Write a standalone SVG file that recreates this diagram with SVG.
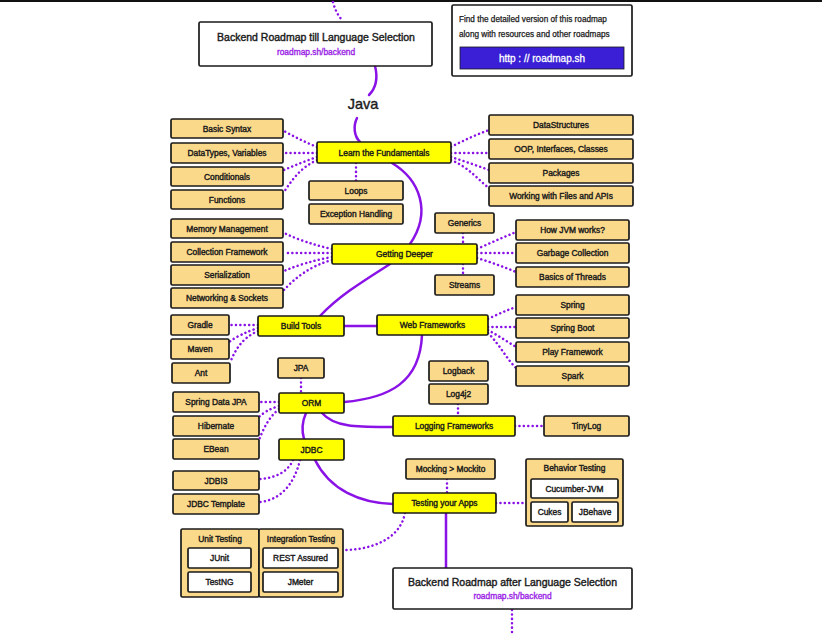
<svg xmlns="http://www.w3.org/2000/svg" width="822" height="635" viewBox="0 0 822 635">
<style>
text{font-family:"Liberation Sans",Arial,sans-serif;text-anchor:middle;dominant-baseline:central;fill:#1a1a1a;stroke:#1a1a1a;stroke-width:0.4;font-size:8.4px}
.main rect{fill:#ffff00;stroke:#1a1a1a;stroke-width:1.7}
.sub rect{fill:#fbd98b;stroke:#1a1a1a;stroke-width:1.7}
.white{fill:#fff;stroke:#1a1a1a;stroke-width:1.7}
.cont{fill:#fbd98b;stroke:#1a1a1a;stroke-width:1.7}
.solid{fill:none;stroke:#8a12e6;stroke-width:2.5;stroke-linecap:round}
.dot{fill:none;stroke:#8a12e6;stroke-width:2.5;stroke-linecap:round;stroke-dasharray:0.1 4.3}
.big{font-size:10.5px}
.link{font-size:8.4px;fill:#9a1ee6;stroke:#9a1ee6;stroke-width:0.35}
.info{font-size:8.2px;text-anchor:start;stroke-width:0.25}
</style>
<rect x="0" y="0" width="822" height="2" fill="#111"/>
<g id="connectors">
<path class="dot" d="M333,2 Q336,14 343,21"/>
<path class="dot" d="M512,610 L512,635"/>
<path class="solid" d="M375,66 C378,78 376,88 369,95"/>
<path class="solid" d="M357,118 C353,126 354,136 360,142"/>
<path class="solid" d="M392,163 C420,180 432,212 410,244"/>
<path class="solid" d="M390,264 C365,280 340,295 320,316"/>
<path class="solid" d="M344,326 L377,326"/>
<path class="solid" d="M422,335 C420,382 390,398 344,402"/>
<path class="solid" d="M306,413 C302,422 302,432 304,439"/>
<path class="solid" d="M322,413 C335,428 360,427 393,427"/>
<path class="solid" d="M315,460 C330,490 360,503 393,504"/>
<path class="solid" d="M446,513 L446,568"/>
<path class="dot" d="M317,147 Q300,140 284,131"/>
<path class="dot" d="M317,153 L284,153"/>
<path class="dot" d="M317,157 Q300,163 284,170"/>
<path class="dot" d="M317,160 C300,168 292,180 284,192"/>
<path class="dot" d="M451,147 Q470,137 489,130"/>
<path class="dot" d="M451,153 L489,153"/>
<path class="dot" d="M451,157 Q470,163 489,170"/>
<path class="dot" d="M451,160 C470,168 478,180 489,188"/>
<path class="dot" d="M356,163 L356,181"/>
<path class="dot" d="M332,249 Q305,243 284,233"/>
<path class="dot" d="M332,253 L284,253"/>
<path class="dot" d="M332,257 Q305,262 284,271"/>
<path class="dot" d="M332,260 C310,266 295,278 284,290"/>
<path class="dot" d="M463,233 L463,244"/>
<path class="dot" d="M463,264 L463,275"/>
<path class="dot" d="M477,249 Q497,240 516,232"/>
<path class="dot" d="M477,253 L516,253"/>
<path class="dot" d="M477,258 Q497,264 516,272"/>
<path class="dot" d="M258,325 L229,325"/>
<path class="dot" d="M258,328 Q240,334 229,342"/>
<path class="dot" d="M258,331 C242,338 235,350 230,363"/>
<path class="dot" d="M488,319 Q502,312 516,307"/>
<path class="dot" d="M488,327 L516,327"/>
<path class="dot" d="M488,330 Q502,338 516,347"/>
<path class="dot" d="M488,333 C500,345 506,358 516,368"/>
<path class="dot" d="M301,378 L301,393"/>
<path class="dot" d="M279,402 L259,402"/>
<path class="dot" d="M279,406 Q266,410 259,417"/>
<path class="dot" d="M279,409 C268,418 263,430 259,440"/>
<path class="dot" d="M458,404 L458,416"/>
<path class="dot" d="M515,426 L544,426"/>
<path class="dot" d="M293,460 C288,472 275,478 260,479"/>
<path class="dot" d="M300,460 C294,485 280,500 260,502"/>
<path class="dot" d="M447,479 L447,493"/>
<path class="dot" d="M496,503 L526,503"/>
<path class="dot" d="M405,513 C400,540 370,550 343,550"/>
</g>
<g id="backend-top"><rect class="white" x="199" y="22" width="233" height="44" rx="1.5"/><text class="big" x="316" y="37">Backend Roadmap till Language Selection</text><text class="link" x="316" y="52">roadmap.sh/backend</text></g>
<g id="info"><rect class="white" x="452" y="5" width="180" height="71" rx="1.5"/><text class="info" x="459" y="19">Find the detailed version of this roadmap</text><text class="info" x="459" y="34">along with resources and other roadmaps</text><rect x="460" y="47" width="164" height="22" fill="#3a1fd6" stroke="#1a1a1a" stroke-width="0.8"/><text x="542" y="58" style="font-size:10px;fill:#fff;stroke:#fff;stroke-width:0.3">http : // roadmap.sh</text></g>
<g id="java"><text x="363" y="104" style="font-size:14.5px;stroke-width:0.4">Java</text></g>
<g id="n-ltf" class="main"><rect x="317" y="142" width="134" height="21" rx="1.5"/><text x="384" y="152.5">Learn the Fundamentals</text></g>
<g id="n-gd" class="main"><rect x="332" y="244" width="145" height="20" rx="1.5"/><text x="404.5" y="254">Getting Deeper</text></g>
<g id="n-bt" class="main"><rect x="258" y="316" width="86" height="20" rx="1.5"/><text x="301" y="326">Build Tools</text></g>
<g id="n-wf" class="main"><rect x="377" y="315" width="111" height="20" rx="1.5"/><text x="432.5" y="325">Web Frameworks</text></g>
<g id="n-orm" class="main"><rect x="279" y="393" width="65" height="20" rx="1.5"/><text x="311.5" y="403">ORM</text></g>
<g id="n-jdbc" class="main"><rect x="279" y="439" width="65" height="21" rx="1.5"/><text x="311.5" y="449.5">JDBC</text></g>
<g id="n-lf" class="main"><rect x="393" y="416" width="122" height="20" rx="1.5"/><text x="454" y="426">Logging Frameworks</text></g>
<g id="n-tya" class="main"><rect x="393" y="493" width="103" height="20" rx="1.5"/><text x="444.5" y="503">Testing your Apps</text></g>
<g id="s-basic" class="sub"><rect x="171" y="119" width="112" height="19" rx="1.5"/><text x="227" y="128.5">Basic Syntax</text></g>
<g id="s-types" class="sub"><rect x="171" y="143" width="112" height="20" rx="1.5"/><text x="227" y="153">DataTypes, Variables</text></g>
<g id="s-cond" class="sub"><rect x="171" y="167" width="112" height="19" rx="1.5"/><text x="227" y="176.5">Conditionals</text></g>
<g id="s-func" class="sub"><rect x="171" y="190" width="112" height="19" rx="1.5"/><text x="227" y="199.5">Functions</text></g>
<g id="s-loops" class="sub"><rect x="309" y="181" width="94" height="19" rx="1.5"/><text x="356" y="190.5">Loops</text></g>
<g id="s-exc" class="sub"><rect x="309" y="204" width="94" height="20" rx="1.5"/><text x="356" y="214">Exception Handling</text></g>
<g id="s-ds" class="sub"><rect x="489" y="115" width="144" height="20" rx="1.5"/><text x="561" y="125">DataStructures</text></g>
<g id="s-oop" class="sub"><rect x="489" y="139" width="144" height="20" rx="1.5"/><text x="561" y="149">OOP, Interfaces, Classes</text></g>
<g id="s-pkg" class="sub"><rect x="489" y="163" width="144" height="20" rx="1.5"/><text x="561" y="173">Packages</text></g>
<g id="s-files" class="sub"><rect x="489" y="186" width="144" height="20" rx="1.5"/><text x="561" y="196">Working with Files and APIs</text></g>
<g id="s-mem" class="sub"><rect x="171" y="219" width="112" height="19" rx="1.5"/><text x="227" y="228.5">Memory Management</text></g>
<g id="s-coll" class="sub"><rect x="171" y="242" width="112" height="20" rx="1.5"/><text x="227" y="252">Collection Framework</text></g>
<g id="s-ser" class="sub"><rect x="171" y="265" width="112" height="20" rx="1.5"/><text x="227" y="275">Serialization</text></g>
<g id="s-net" class="sub"><rect x="171" y="288" width="112" height="20" rx="1.5"/><text x="227" y="298">Networking &amp; Sockets</text></g>
<g id="s-gen" class="sub"><rect x="435" y="213" width="59" height="20" rx="1.5"/><text x="464.5" y="223">Generics</text></g>
<g id="s-str" class="sub"><rect x="435" y="275" width="59" height="20" rx="1.5"/><text x="464.5" y="285">Streams</text></g>
<g id="s-jvm" class="sub"><rect x="516" y="220" width="113" height="20" rx="1.5"/><text x="572.5" y="230">How JVM works?</text></g>
<g id="s-gc" class="sub"><rect x="516" y="243" width="113" height="20" rx="1.5"/><text x="572.5" y="253">Garbage Collection</text></g>
<g id="s-thr" class="sub"><rect x="516" y="267" width="113" height="20" rx="1.5"/><text x="572.5" y="277">Basics of Threads</text></g>
<g id="s-gradle" class="sub"><rect x="171" y="315" width="58" height="20" rx="1.5"/><text x="200" y="325">Gradle</text></g>
<g id="s-maven" class="sub"><rect x="171" y="339" width="58" height="20" rx="1.5"/><text x="200" y="349">Maven</text></g>
<g id="s-ant" class="sub"><rect x="172" y="363" width="58" height="20" rx="1.5"/><text x="201" y="373">Ant</text></g>
<g id="s-spring" class="sub"><rect x="516" y="295" width="113" height="20" rx="1.5"/><text x="572.5" y="305">Spring</text></g>
<g id="s-boot" class="sub"><rect x="516" y="318" width="113" height="20" rx="1.5"/><text x="572.5" y="328">Spring Boot</text></g>
<g id="s-play" class="sub"><rect x="516" y="342" width="113" height="20" rx="1.5"/><text x="572.5" y="352">Play Framework</text></g>
<g id="s-spark" class="sub"><rect x="516" y="366" width="113" height="20" rx="1.5"/><text x="572.5" y="376">Spark</text></g>
<g id="s-jpa" class="sub"><rect x="278" y="358" width="46" height="20" rx="1.5"/><text x="301" y="368">JPA</text></g>
<g id="s-logback" class="sub"><rect x="429" y="361" width="59" height="20" rx="1.5"/><text x="458.5" y="371">Logback</text></g>
<g id="s-log4j2" class="sub"><rect x="429" y="384" width="59" height="20" rx="1.5"/><text x="458.5" y="394">Log4j2</text></g>
<g id="s-sdjpa" class="sub"><rect x="173" y="392" width="86" height="20" rx="1.5"/><text x="216" y="402">Spring Data JPA</text></g>
<g id="s-hib" class="sub"><rect x="173" y="416" width="86" height="20" rx="1.5"/><text x="216" y="426">Hibernate</text></g>
<g id="s-ebean" class="sub"><rect x="173" y="439" width="86" height="20" rx="1.5"/><text x="216" y="449">EBean</text></g>
<g id="s-jdbi" class="sub"><rect x="173" y="471" width="86" height="19" rx="1.5"/><text x="216" y="480.5">JDBI3</text></g>
<g id="s-jdbct" class="sub"><rect x="173" y="494" width="86" height="20" rx="1.5"/><text x="216" y="504">JDBC Template</text></g>
<g id="s-tiny" class="sub"><rect x="544" y="416" width="85" height="20" rx="1.5"/><text x="586.5" y="426">TinyLog</text></g>
<g id="s-mock" class="sub"><rect x="406" y="459" width="89" height="20" rx="1.5"/><text x="450.5" y="469">Mocking &gt; Mockito</text></g>
<g id="g-behavior"><rect class="cont" x="526" y="459" width="97" height="67" rx="1.5"/><text x="574.5" y="468">Behavior Testing</text>
<rect class="white" x="531" y="479" width="87" height="19" rx="1.5"/><text x="574.5" y="488.5">Cucumber-JVM</text>
<rect class="white" x="531" y="502" width="37" height="20" rx="1.5"/><text x="549.5" y="512">Cukes</text>
<rect class="white" x="572" y="502" width="46" height="20" rx="1.5"/><text x="595" y="512">JBehave</text></g>
<g id="g-unit"><rect class="cont" x="181" y="529" width="78" height="68" rx="1.5"/><text x="220" y="539">Unit Testing</text>
<rect class="white" x="188" y="548" width="63" height="20" rx="1.5"/><text x="219.5" y="558">JUnit</text>
<rect class="white" x="188" y="572" width="63" height="20" rx="1.5"/><text x="219.5" y="582">TestNG</text></g>
<g id="g-integ"><rect class="cont" x="259" y="529" width="84" height="68" rx="1.5"/><text x="301" y="539">Integration Testing</text>
<rect class="white" x="263" y="548" width="75" height="20" rx="1.5"/><text x="300.5" y="558">REST Assured</text>
<rect class="white" x="263" y="572" width="75" height="20" rx="1.5"/><text x="300.5" y="582">JMeter</text></g>
<g id="backend-bottom"><rect class="white" x="393" y="568" width="239" height="41" rx="1.5"/><text class="big" x="512.5" y="582">Backend Roadmap after Language Selection</text><text class="link" x="512.5" y="596">roadmap.sh/backend</text></g>
</svg>
